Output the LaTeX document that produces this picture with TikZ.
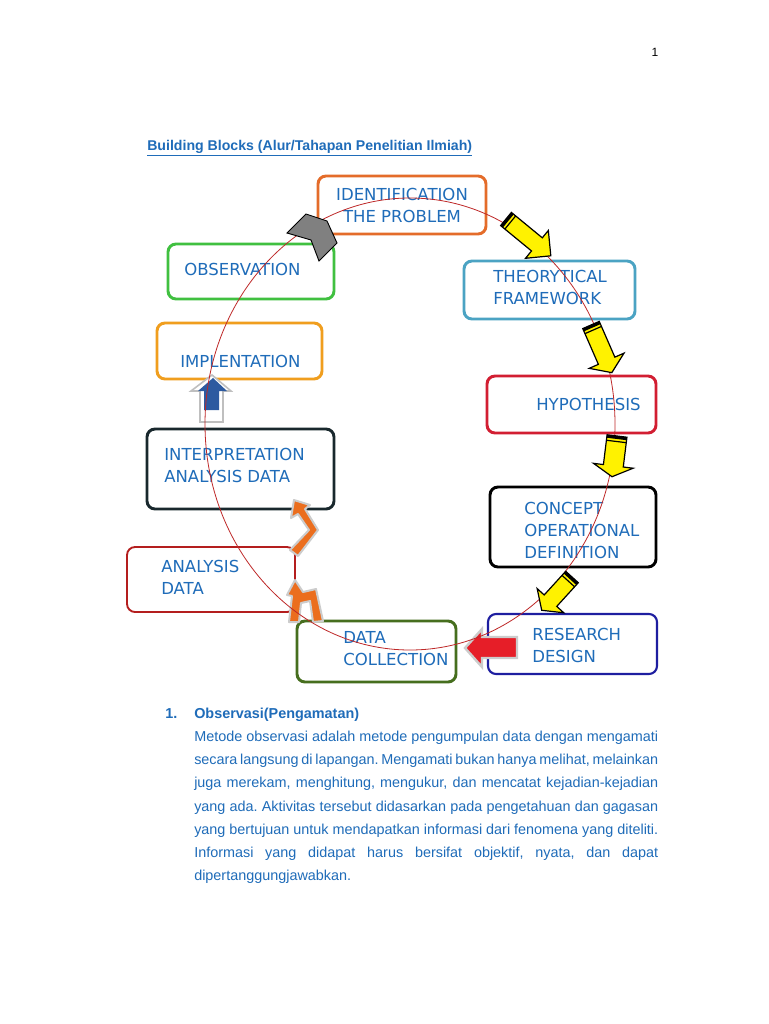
\documentclass[tikz,border=0pt]{standalone}
\usepackage{fontspec}
\setmainfont{Liberation Sans}
\newfontfamily\lblfont{DejaVu Sans}
\usetikzlibrary{fit}
\frenchspacing
\definecolor{txtblue}{RGB}{31,108,185}
\definecolor{cIdent}{RGB}{228,108,42}
\definecolor{cObs}{RGB}{64,192,64}
\definecolor{cTheo}{RGB}{75,163,195}
\definecolor{cImpl}{RGB}{240,158,30}
\definecolor{cHyp}{RGB}{210,30,50}
\definecolor{cInterp}{RGB}{25,40,45}
\definecolor{cAnal}{RGB}{180,30,30}
\definecolor{cColl}{RGB}{70,110,30}
\definecolor{cRes}{RGB}{30,30,160}
\definecolor{cCirc}{RGB}{190,40,40}
\definecolor{cOrange}{RGB}{235,110,30}
\definecolor{cBlueA}{RGB}{45,90,160}
\definecolor{cRedA}{RGB}{230,30,40}
\newcommand\yarr[7]{%
\begin{scope}[shift={(#1,#2)},rotate=#3]
\filldraw[yarrow] (0,-#5) -- ({#4-#7},-#5) -- ({#4-#7},-#6) -- (#4,0) -- ({#4-#7},#6) -- ({#4-#7},#5) -- (0,#5) -- cycle;
\fill[black] (0,-#5) rectangle (3,#5);
\draw[black,line width=0.9pt] (5.5,-#5) -- (5.5,#5);
\end{scope}}
\begin{document}
\begin{tikzpicture}[x=0.75pt,y=-0.75pt,
  box/.style={draw=#1,fill=white,rounded corners=6pt,inner sep=0pt,line width=2.2pt},
  lbl/.style={font=\lblfont\fontsize{12.4pt}{16.5pt}\selectfont,text=txtblue,inner sep=0pt,align=left,anchor=west},
  yarrow/.style={fill=yellow,draw=black,line width=0.9pt,line join=miter},
  oarrow/.style={fill=cOrange,draw=black!20,line width=1.5pt,line join=round},
  body/.style={font=\fontsize{10.8pt}{12pt}\selectfont,text=txtblue,inner sep=0pt,anchor=base west}]
\useasboundingbox (0,0) rectangle (768,1024);
\fill[white] (0,0) rectangle (768,1024);

% page number and title
\node[font=\fontsize{9pt}{10pt}\selectfont,inner sep=0pt] (pnum) at (655,52) {1};
\node[font=\bfseries\fontsize{10.6pt}{12pt}\selectfont,text=txtblue,inner sep=0pt,anchor=base west] (title) at (147,150) {\underline{Building Blocks (Alur/Tahapan Penelitian Ilmiah)}};

% boxes
\node[box=cIdent,fit={(318,176) (486,234)}] (ident) {};
\node[box=cObs,fit={(168,244) (334,299)}] (obs) {};
\node[box=cTheo,fit={(464,261) (635,319)}] (theo) {};
\node[box=cImpl,fit={(157,323) (322,379)}] (impl) {};
\node[box=cHyp,fit={(487,376) (656,433)}] (hyp) {};
\node[box=cInterp,fit={(147,429) (334,509)}] (interp) {};
\node[box=black,fit={(490,487) (656,567)}] (concept) {};
\node[box=cAnal,line width=1.4pt,fit={(127,547) (295,612)}] (anal) {};
\node[box=cColl,fit={(297,621) (456,682)}] (coll) {};
\node[box=cRes,line width=1.6pt,fit={(488,614) (657,674)}] (res) {};

% labels
\node[lbl,align=center,anchor=center] (identT) at (402,205) {IDENTIFICATION\\THE PROBLEM};
\node[lbl] (obsT) at (184,269) {OBSERVATION};
\node[lbl] (theoT) at (493,287) {THEORYTICAL\\FRAMEWORK};
\node[lbl] (implT) at (180,361) {IMPLENTATION};
\node[lbl] (hypT) at (536,404) {HYPOTHESIS};
\node[lbl] (interpT) at (164,465) {INTERPRETATION\\ANALYSIS DATA};
\node[lbl] (conceptT) at (524,530) {CONCEPT\\OPERATIONAL\\DEFINITION};
\node[lbl] (analT) at (161,577) {ANALYSIS\\DATA};
\node[lbl] (collT) at (343,649) {DATA\\COLLECTION};
\node[lbl] (resT) at (532,645) {RESEARCH\\DESIGN};

% orange arrows
\filldraw[oarrow] (294,500) -- (310,505) -- (305,509) -- (318,530) -- (298,556) -- (290,550) -- (309,530) -- (298,514) -- (291,518) -- cycle;
\filldraw[oarrow] (289,622) -- (292,596) -- (287,595) -- (295,580) -- (303,592) -- (316,589) -- (323,621) -- (313,622) -- (310,601) -- (301,603) -- (299,622) -- cycle;

% red arrow
\filldraw[fill=cRedA,draw=black!20,line width=1.8pt,line join=miter] (465,648) -- (482,629) -- (482,637) -- (517,637) -- (517,658) -- (482,658) -- (482,667) -- cycle;

% blue arrow
\filldraw[fill=white,draw=black!25,line width=1.2pt] (212,375) -- (231,391) -- (223,391) -- (223,422) -- (200,422) -- (200,391) -- (191,391) -- cycle;
\fill[cBlueA] (213,378) -- (227,391) -- (219,391) -- (219,410) -- (204,410) -- (204,391) -- (198,391) -- cycle;

% cycle line
\draw[cCirc,line width=0.6pt] (410,424) ellipse [x radius=153.75pt, y radius=169.5pt];

% yellow arrows
\yarr{506}{219}{-39.4}{58}{8.5}{18}{18}
\yarr{591}{325}{-66.4}{52}{9}{19}{13}
\yarr{617}{436}{-97}{41}{10}{20}{11}
\yarr{572}{577}{-132.3}{45}{8.5}{18}{13}

% gray arrow
\filldraw[fill=black!50,draw=black,line width=0.7pt] (287,233) -- (306,214) -- (327,221) -- (337,243) -- (319,261) -- (311,240) -- cycle;

% text
\node[body,font=\bfseries\fontsize{10.8pt}{12pt}\selectfont] (h1n) at (165,718) {1.};
\node[body,font=\bfseries\fontsize{10.8pt}{12pt}\selectfont] (h1) at (194,718) {Observasi(Pengamatan)};
\node[body] (l1) at (194,741) {\makebox[348pt][s]{Metode observasi adalah metode pengumpulan data dengan mengamati}};
\node[body] (l2) at (194,764) {\makebox[348pt][s]{secara langsung di lapangan. Mengamati bukan hanya melihat, melainkan}};
\node[body] (l3) at (194,787) {\makebox[348pt][s]{juga merekam, menghitung, mengukur, dan mencatat kejadian-kejadian}};
\node[body] (l4) at (194,811) {\makebox[348pt][s]{yang ada. Aktivitas tersebut didasarkan pada pengetahuan dan gagasan}};
\node[body] (l5) at (194,834) {\makebox[348pt][s]{yang bertujuan untuk mendapatkan informasi dari fenomena yang diteliti.}};
\node[body] (l6) at (194,857) {\makebox[348pt][s]{Informasi yang didapat harus bersifat objektif, nyata, dan dapat}};
\node[body] (l7) at (194,880) {dipertanggungjawabkan.};
\end{tikzpicture}
\end{document}
